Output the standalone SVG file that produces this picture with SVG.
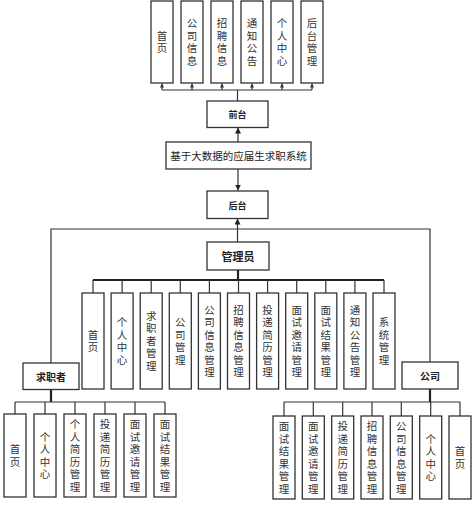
<svg xmlns="http://www.w3.org/2000/svg" width="474" height="506" viewBox="0 0 474 506">
<style>
.box{fill:#fff;stroke:#333;stroke-width:1.3}
.ln{fill:none;stroke:#333;stroke-width:1.2}
.thk{fill:none;stroke:#222;stroke-width:2.2}
.v{font-family:"Noto Sans CJK SC","Noto Sans CJK JP",sans-serif;font-size:10.5px;fill:#333;text-anchor:middle;writing-mode:vertical-rl;letter-spacing:2px}
.b{font-family:"Noto Sans CJK SC",sans-serif;font-weight:bold;fill:#222;text-anchor:middle;dominant-baseline:central}
.m{font-family:"Noto Sans CJK SC",sans-serif;font-size:10.5px;fill:#222;text-anchor:middle;dominant-baseline:central}
</style>
<defs>
<marker id="ah" viewBox="0 0 10 10" refX="10" refY="5" markerWidth="6" markerHeight="6" orient="auto" markerUnits="userSpaceOnUse"><path d="M0,0 L10,5 L0,10 z" fill="#222"/></marker>
<marker id="as" viewBox="0 0 10 10" refX="10" refY="5" markerWidth="4" markerHeight="4" orient="auto" markerUnits="userSpaceOnUse"><path d="M0,0 L10,5 L0,10 z" fill="#333"/></marker>
</defs>

<g id="connectors">
<path class="ln" d="M162,90 H312"/>
<path class="ln" d="M162,90 V83.5" marker-end="url(#as)"/>
<path class="ln" d="M192,90 V83.5" marker-end="url(#as)"/>
<path class="ln" d="M222,90 V83.5" marker-end="url(#as)"/>
<path class="ln" d="M252,90 V83.5" marker-end="url(#as)"/>
<path class="ln" d="M282,90 V83.5" marker-end="url(#as)"/>
<path class="ln" d="M312,90 V83.5" marker-end="url(#as)"/>
<path class="ln" d="M237.5,101 V90"/>
<path class="ln" d="M238,142 V127.5" marker-end="url(#ah)"/>
<path class="ln" d="M238,169 V190.5" marker-end="url(#ah)"/>
<path class="ln" d="M237.5,242 V218.5" marker-end="url(#ah)"/>
<path class="ln" d="M51,363 V229 H430 V362"/>
<path class="thk" d="M238,270 V280"/>
<path class="thk" d="M93,280 H384"/>
<path class="ln" d="M93,280 V293 M122.1,280 V293 M151.2,280 V293 M180.3,280 V293 M209.4,280 V293 M238.5,280 V293 M267.6,280 V293 M296.7,280 V293 M325.8,280 V293 M354.9,280 V293 M384,280 V293"/>
<path class="thk" d="M51,389 V402"/>
<path class="ln" d="M15,402 H165 M15,402 V414 M45,402 V414 M75,402 V414 M105,402 V414 M135,402 V414 M165,402 V414"/>
<path class="thk" d="M430,389 V402"/>
<path class="ln" d="M284,402 H460 M284,402 V416 M313.3,402 V416 M342.7,402 V416 M372,402 V416 M401.3,402 V416 M430.7,402 V416 M460,402 V416"/>
</g>

<g id="top-nodes">
<g id="t1"><rect class="box" x="151" y="1" width="22" height="82"/><text class="v" x="162" y="43">首页</text></g>
<g id="t2"><rect class="box" x="181" y="1" width="22" height="82"/><text class="v" x="192" y="43">公司信息</text></g>
<g id="t3"><rect class="box" x="211" y="1" width="22" height="82"/><text class="v" x="222" y="43">招聘信息</text></g>
<g id="t4"><rect class="box" x="241" y="1" width="22" height="82"/><text class="v" x="252" y="43">通知公告</text></g>
<g id="t5"><rect class="box" x="271" y="1" width="22" height="82"/><text class="v" x="282" y="43">个人中心</text></g>
<g id="t6"><rect class="box" x="301" y="1" width="22" height="82"/><text class="v" x="312" y="43">后台管理</text></g>
</g>

<g id="qiantai"><rect class="box" x="207" y="101" width="61" height="26.5"/><text class="b" x="237.5" y="114.5" font-size="9">前台</text></g>
<g id="system"><rect class="box" x="166" y="142" width="145" height="27"/><text class="m" x="238.5" y="155.5">基于大数据的应届生求职系统</text></g>
<g id="houtai"><rect class="box" x="207" y="191" width="61" height="27.5"/><text class="b" x="237.5" y="205" font-size="9">后台</text></g>
<g id="admin"><rect class="box" x="207" y="242" width="62" height="28"/><text class="b" x="238" y="256" font-size="11">管理员</text></g>

<g id="admin-children">
<g id="a1"><rect class="box" x="82" y="293" width="22" height="96"/><text class="v" x="93" y="342">首页</text></g>
<g id="a2"><rect class="box" x="111.1" y="293" width="22" height="96"/><text class="v" x="122.1" y="342">个人中心</text></g>
<g id="a3"><rect class="box" x="140.2" y="293" width="22" height="96"/><text class="v" x="151.2" y="342">求职者管理</text></g>
<g id="a4"><rect class="box" x="169.3" y="293" width="22" height="96"/><text class="v" x="180.3" y="342">公司管理</text></g>
<g id="a5"><rect class="box" x="198.4" y="293" width="22" height="96"/><text class="v" x="209.4" y="342">公司信息管理</text></g>
<g id="a6"><rect class="box" x="227.5" y="293" width="22" height="96"/><text class="v" x="238.5" y="342">招聘信息管理</text></g>
<g id="a7"><rect class="box" x="256.6" y="293" width="22" height="96"/><text class="v" x="267.6" y="342">投递简历管理</text></g>
<g id="a8"><rect class="box" x="285.7" y="293" width="22" height="96"/><text class="v" x="296.7" y="342">面试邀请管理</text></g>
<g id="a9"><rect class="box" x="314.8" y="293" width="22" height="96"/><text class="v" x="325.8" y="342">面试结果管理</text></g>
<g id="a10"><rect class="box" x="343.9" y="293" width="22" height="96"/><text class="v" x="354.9" y="342">通知公告管理</text></g>
<g id="a11"><rect class="box" x="373" y="293" width="22" height="96"/><text class="v" x="384" y="342">系统管理</text></g>
</g>

<g id="jobseeker"><rect class="box" x="23" y="363" width="56" height="26.5"/><text class="b" x="51" y="376.5" font-size="10">求职者</text></g>
<g id="company"><rect class="box" x="402" y="362" width="56" height="27"/><text class="b" x="430" y="375.5" font-size="10">公司</text></g>

<g id="jobseeker-children">
<g id="j1"><rect class="box" x="4" y="414" width="22" height="83"/><text class="v" x="15" y="456.5">首页</text></g>
<g id="j2"><rect class="box" x="34" y="414" width="22" height="83"/><text class="v" x="45" y="456.5">个人中心</text></g>
<g id="j3"><rect class="box" x="64" y="414" width="22" height="83"/><text class="v" x="75" y="456.5">个人简历管理</text></g>
<g id="j4"><rect class="box" x="94" y="414" width="22" height="83"/><text class="v" x="105" y="456.5">投递简历管理</text></g>
<g id="j5"><rect class="box" x="124" y="414" width="22" height="83"/><text class="v" x="135" y="456.5">面试邀请管理</text></g>
<g id="j6"><rect class="box" x="154" y="414" width="22" height="83"/><text class="v" x="165" y="456.5">面试结果管理</text></g>
</g>

<g id="company-children">
<g id="c1"><rect class="box" x="273" y="416" width="22" height="83"/><text class="v" x="284" y="458.5">面试结果管理</text></g>
<g id="c2"><rect class="box" x="302.3" y="416" width="22" height="83"/><text class="v" x="313.3" y="458.5">面试邀请管理</text></g>
<g id="c3"><rect class="box" x="331.7" y="416" width="22" height="83"/><text class="v" x="342.7" y="458.5">投递简历管理</text></g>
<g id="c4"><rect class="box" x="361" y="416" width="22" height="83"/><text class="v" x="372" y="458.5">招聘信息管理</text></g>
<g id="c5"><rect class="box" x="390.3" y="416" width="22" height="83"/><text class="v" x="401.3" y="458.5">公司信息管理</text></g>
<g id="c6"><rect class="box" x="419.7" y="416" width="22" height="83"/><text class="v" x="430.7" y="458.5">个人中心</text></g>
<g id="c7"><rect class="box" x="449" y="416" width="22" height="83"/><text class="v" x="460" y="458.5">首页</text></g>
</g>
</svg>
